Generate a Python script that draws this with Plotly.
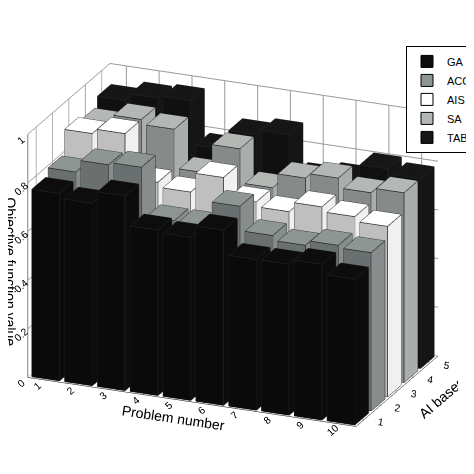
import plotly.graph_objects as go

problems = list(range(1, 11))
methods = ["GA", "ACO", "AIS", "SA", "TABU"]
colors = ["#0d0d0d", "#8e9694", "#ffffff", "#b3b8b5", "#161616"]

ga = [0.77, 0.75, 0.80, 0.68, 0.67, 0.72, 0.62, 0.62, 0.64, 0.60]
aco = [0.80, 0.85, 0.86, 0.66, 0.66, 0.76, 0.66, 0.64, 0.66, 0.65]
ais = [0.90, 0.92, 0.74, 0.72, 0.80, 0.72, 0.70, 0.74, 0.72, 0.70]
sa = [0.88, 0.92, 0.90, 0.74, 0.86, 0.72, 0.78, 0.80, 0.76, 0.78]
tabu = [0.92, 0.95, 0.96, 0.78, 0.86, 0.88, 0.72, 0.74, 0.80, 0.78]
series = [ga, aco, ais, sa, tabu]

w = 0.42
fig = go.Figure()
for m, (name, vals) in enumerate(zip(methods, series)):
    X, Y, Z, I, J, K = [], [], [], [], [], []
    ex, ey, ez = [], [], []
    for p, v in zip(problems, vals):
        b = len(X)
        x0, x1, y0, y1 = p - w, p + w, m + 1 - w, m + 1 + w
        pts = [(x0, y0, 0), (x1, y0, 0), (x1, y1, 0), (x0, y1, 0),
               (x0, y0, v), (x1, y0, v), (x1, y1, v), (x0, y1, v)]
        for x, y, z in pts:
            X.append(x); Y.append(y); Z.append(z)
        faces = [(0, 1, 2), (0, 2, 3), (4, 5, 6), (4, 6, 7), (0, 1, 5), (0, 5, 4),
                 (1, 2, 6), (1, 6, 5), (2, 3, 7), (2, 7, 6), (3, 0, 4), (3, 4, 7)]
        for a, c, d in faces:
            I.append(b + a); J.append(b + c); K.append(b + d)
        for e0, e1 in [(0, 1), (1, 2), (2, 3), (3, 0), (4, 5), (5, 6), (6, 7), (7, 4),
                       (0, 4), (1, 5), (2, 6), (3, 7)]:
            for q in (e0, e1):
                ex.append(pts[q][0]); ey.append(pts[q][1]); ez.append(pts[q][2])
            ex.append(None); ey.append(None); ez.append(None)
    fig.add_trace(go.Mesh3d(x=X, y=Y, z=Z, i=I, j=J, k=K, color=colors[m], flatshading=True,
                            lighting=dict(ambient=0.75, diffuse=0.5, specular=0.05),
                            name=name, showlegend=False, hoverinfo="skip"))
    fig.add_trace(go.Scatter3d(x=ex, y=ey, z=ez, mode="lines", line=dict(color="#222", width=1.5),
                               showlegend=False, hoverinfo="skip"))
    fig.add_trace(go.Scatter3d(x=[None], y=[None], z=[None], mode="markers", name=name,
                               marker=dict(symbol="square", size=12, color=colors[m],
                                           line=dict(color="black", width=1))))

ax = dict(showbackground=False, gridcolor="#999", linecolor="black", showline=True,
          tickfont=dict(size=11, family="Liberation Sans", color="black"),
          title_font=dict(size=12, family="Liberation Sans", color="black"))
fig.update_layout(
    width=474, height=474, paper_bgcolor="white", margin=dict(l=0, r=0, t=0, b=0),
    font=dict(family="Liberation Sans", color="black"),
    legend=dict(x=0.84, y=0.92, bordercolor="black", borderwidth=1, font=dict(size=11)),
    scene=dict(
        domain=dict(x=[0, 0.95], y=[0, 1]),
        xaxis=dict(ax, title="Problem number", tickvals=problems, range=[0.5, 10.5]),
        yaxis=dict(ax, title="AI based", tickvals=[1, 2, 3, 4, 5], range=[0.5, 5.5]),
        zaxis=dict(ax, title="Objective function value", tickvals=[0, 0.2, 0.4, 0.6, 0.8, 1],
                   range=[0, 1]),
        aspectmode="manual", aspectratio=dict(x=1.5, y=0.9, z=1.1),
        camera=dict(eye=dict(x=1.0, y=-2.4, z=1.0), center=dict(x=0, y=0, z=0),
                    projection=dict(type="orthographic")),
    ),
)
fig.write_html("out.html")
